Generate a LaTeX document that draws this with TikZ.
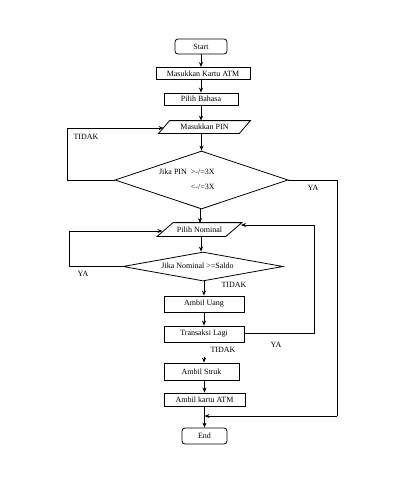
\documentclass[tikz,border=0pt]{standalone}
\usepackage{fontspec}
\setmainfont{Liberation Serif}
\usetikzlibrary{shapes.geometric,arrows.meta}
\begin{document}
\begin{tikzpicture}[x=1pt,y=-1pt,
  font=\fontsize{8}{9.5}\selectfont,
  every path/.style={line width=0.8pt},
  box/.style={draw,rectangle,inner sep=0pt},
  term/.style={draw,rectangle,rounded corners=3pt,inner sep=0pt},
  ghost/.style={rectangle,inner sep=0pt},
  dia/.style={draw,diamond,inner sep=0pt},
  lbl/.style={inner sep=0pt},
  arr/.style={-{Stealth[length=5pt,width=4pt]}}]
\useasboundingbox (0,0) rectangle (408,504);
% nodes
\node[term,minimum width=52pt,minimum height=15pt] (start) at (201,46.5) {Start};
\node[box,minimum width=94pt,minimum height=12pt] (kartu) at (203,73.5) {Masukkan Kartu ATM};
\node[box,minimum width=74pt,minimum height=12pt] (bahasa) at (201,99) {Pilih Bahasa};
\node[ghost,minimum width=80pt,minimum height=12pt] (pin) at (204.5,127) {Masukkan PIN};
\draw ([xshift=-5.5pt]pin.south west) -- ([xshift=5.5pt]pin.north west) -- ([xshift=5.5pt]pin.north east) -- ([xshift=-5.5pt]pin.south east) -- cycle;
\node[dia,minimum width=173pt,minimum height=58pt] (d1) at (201.5,180) {};
\node[lbl,anchor=east] (d1a) at (215,172) {Jika PIN\ \ >-/=3X};
\node[lbl,anchor=east] (d1b) at (215,187) {<-/=3X};
\node[ghost,minimum width=68pt,minimum height=13pt] (nom) at (199.5,229.5) {Pilih Nominal};
\draw ([xshift=-8pt]nom.south west) -- ([xshift=8pt]nom.north west) -- ([xshift=8pt]nom.north east) -- ([xshift=-8pt]nom.south east) -- cycle;
\node[dia,minimum width=160pt,minimum height=29pt] (d2) at (203,266.5) {};
\node[lbl] (d2a) at (197.5,265.5) {Jika Nominal >=Saldo};
\node[box,minimum width=80pt,minimum height=16pt] (uang) at (204,304) {Ambil Uang};
\node[box,minimum width=80pt,minimum height=16pt] (lagi) at (204,334) {Transaksi Lagi};
\node[box,minimum width=75pt,minimum height=17pt] (struk) at (201.5,371.5) {Ambil Struk};
\node[box,minimum width=81pt,minimum height=13pt] (katm) at (204.5,399.5) {Ambil kartu ATM};
\node[term,minimum width=45pt,minimum height=16pt] (end) at (204.5,436) {End};
% labels
\node[lbl] (t1) at (86,137) {TIDAK};
\node[lbl] (y1) at (313,188) {YA};
\node[lbl] (y2) at (83,274) {YA};
\node[lbl] (t2) at (234,285) {TIDAK};
\node[lbl] (y3) at (276,345) {YA};
\node[lbl] (t3) at (223,350) {TIDAK};
% coordinates
\coordinate (c1) at (67,180);
\coordinate (c2) at (67,128);
\coordinate (c3) at (337,180);
\coordinate (c4) at (337,416);
\coordinate (c5) at (69,266.5);
\coordinate (c6) at (69,231);
\coordinate (c7) at (314,333);
\coordinate (c8) at (314,225);
\coordinate (s0) at (204,357);
% connectors
\draw[arr] (start) -- (start |- kartu.north);
\draw[arr] (bahasa |- kartu.south) -- (bahasa);
\draw[arr] (bahasa) -- (bahasa |- pin.north);
\draw[arr] (pin.south -| d1.north) -- (d1.north);
\draw (d1.west) -- (c1) -- (c2);
\draw[arr] (c2) -- (163.6,128);
\draw (d1.east) -- (c3) -- (c4);
\draw[arr] (c4) -- (end |- c4);
\draw[arr] (d1.south -| 200,0) -- (200,223);
\draw[arr] (201,236) -- (d2.north -| 201,0);
\draw (d2.west) -- (c5) -- (c6);
\draw[arr] (c6) -- (162.5,231);
\draw[arr] (204,281) -- (uang.north);
\draw[arr] (uang) -- (lagi);
\draw (lagi.east |- c7) -- (c7) -- (c8);
\draw[arr] (c8) -- (241,225);
\draw[arr] (s0) -- (s0 |- struk.north);
\draw[arr] (struk.south -| katm) -- (katm);
\draw[arr] (katm) -- (end);
\end{tikzpicture}
\end{document}
